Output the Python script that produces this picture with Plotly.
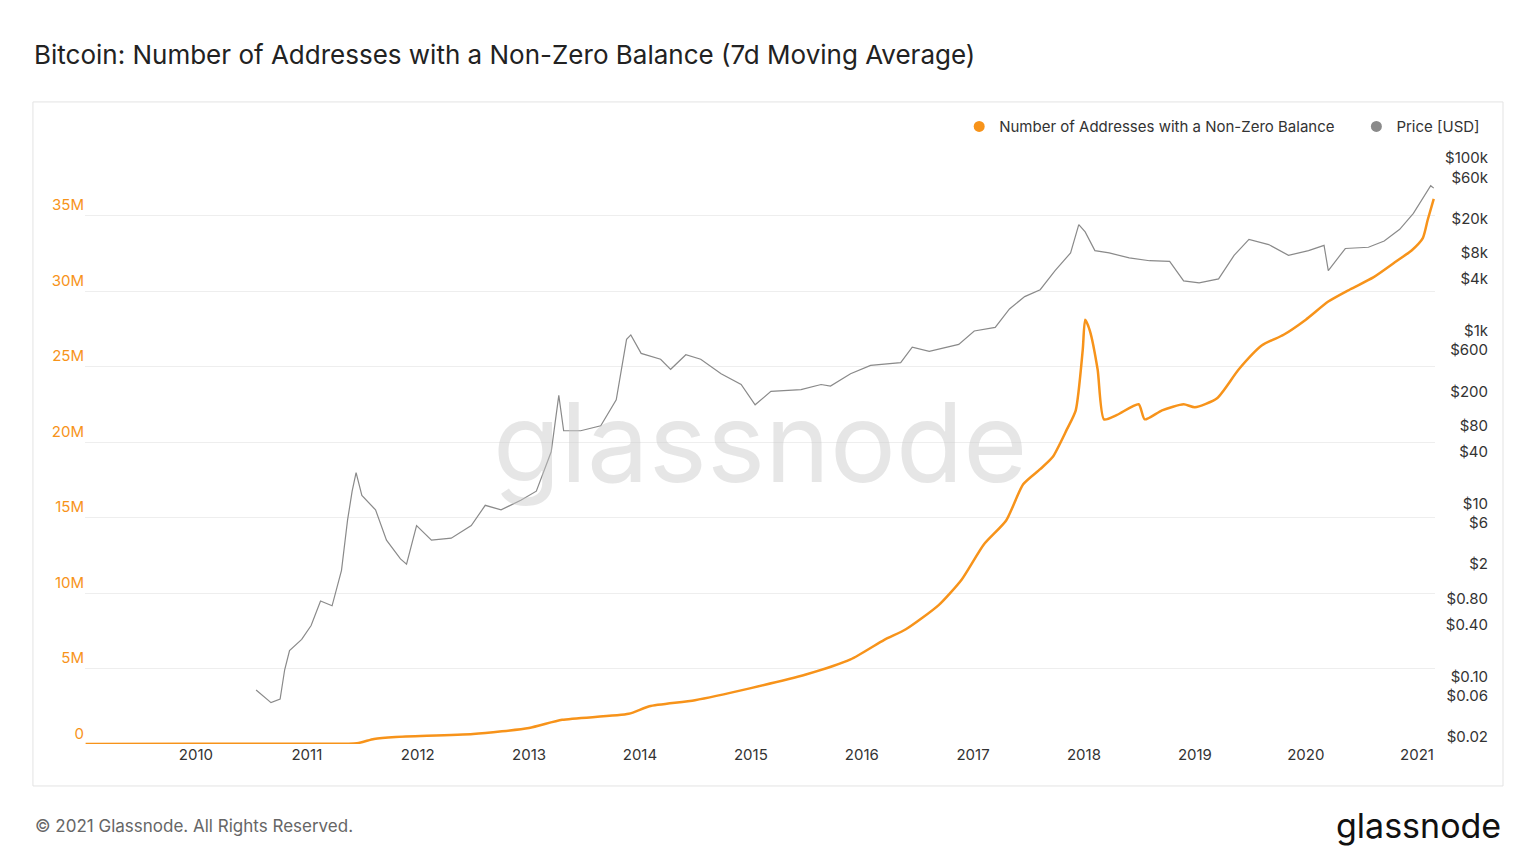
import plotly.graph_objects as go

addr_dates = ["2009-01-03","2010-01-01","2011-01-01","2011-06-15","2011-08-10","2011-10-20","2012-07-01","2013-01-01","2013-04-20","2013-11-25","2014-02-01","2014-07-01","2015-01-01","2015-07-01","2015-11-25","2016-03-15","2016-05-25","2016-09-10","2016-11-25","2017-02-05","2017-04-20","2017-06-15","2017-08-10","2017-09-20","2017-11-05","2017-12-05","2017-12-28","2018-01-05","2018-01-20","2018-02-15","2018-03-08","2018-04-20","2018-06-30","2018-07-20","2018-09-15","2018-11-25","2019-01-01","2019-03-15","2019-05-25","2019-08-10","2019-10-20","2020-01-01","2020-03-15","2020-05-25","2020-08-10","2020-10-20","2020-12-15","2021-01-20","2021-02-05","2021-02-25"]
addr_vals = [0.0,0.01,0.02,0.05,0.33,0.46,0.66,1.06,1.6,2.0,2.5,2.9,3.7,4.6,5.6,6.9,7.6,9.2,10.9,13.2,14.8,17.2,18.2,19.0,20.8,22.1,26.1,28.1,27.4,24.8,21.5,21.8,22.5,21.5,22.1,22.5,22.3,22.9,24.8,26.4,27.1,28.1,29.3,30.1,30.9,31.9,32.7,33.5,34.7,36.1]
addr_vals = [v * 1e6 for v in addr_vals]

price_dates = ["2010-07-18","2010-09-05","2010-10-05","2010-10-20","2010-11-05","2010-12-15","2011-01-15","2011-02-15","2011-03-25","2011-04-25","2011-05-15","2011-05-30","2011-06-12","2011-07-01","2011-08-15","2011-09-20","2011-11-05","2011-11-25","2011-12-28","2012-02-15","2012-04-20","2012-06-25","2012-08-10","2012-10-01","2012-12-05","2013-01-25","2013-03-15","2013-04-09","2013-04-25","2013-06-20","2013-08-25","2013-10-15","2013-11-18","2013-12-02","2014-01-05","2014-03-10","2014-04-12","2014-06-01","2014-07-20","2014-09-25","2014-11-30","2015-01-15","2015-03-08","2015-06-15","2015-08-20","2015-09-20","2015-11-25","2016-01-30","2016-05-08","2016-06-15","2016-08-10","2016-11-15","2017-01-05","2017-03-15","2017-05-01","2017-06-20","2017-08-10","2017-09-28","2017-11-18","2017-12-15","2018-01-05","2018-02-06","2018-03-25","2018-05-30","2018-08-05","2018-10-10","2018-11-25","2019-01-15","2019-03-20","2019-05-10","2019-06-28","2019-09-01","2019-11-05","2020-01-10","2020-03-01","2020-03-15","2020-05-10","2020-07-25","2020-09-15","2020-11-05","2020-12-20","2021-01-20","2021-02-15","2021-02-25"]
price_vals = [0.07,0.05,0.055,0.12,0.2,0.27,0.39,0.75,0.66,1.7,6.5,14,23,12.5,8.5,3.8,2.3,2.0,5.6,3.8,4,5.6,9.6,8.5,11,14,40,180,70,70,80,160,800,900,550,470,360,530,470,320,240,140,200,210,240,230,320,400,430,650,580,700,1000,1100,1800,2500,3000,5000,8000,17000,14000,8500,8000,7000,6500,6400,3800,3600,4000,7500,11500,10000,7500,8500,9800,5000,9000,9300,11000,15000,23000,35000,48000,45000]

left_ticks = [0, 5e6, 10e6, 15e6, 20e6, 25e6, 30e6, 35e6]
left_labels = ["0", "5M", "10M", "15M", "20M", "25M", "30M", "35M"]
right_ticks = [0.02,0.06,0.1,0.4,0.8,2,6,10,40,80,200,600,1000,4000,8000,20000,60000,100000]
right_labels = ["$0.02","$0.06","$0.10","$0.40","$0.80","$2","$6","$10","$40","$80","$200","$600","$1k","$4k","$8k","$20k","$60k","$100k"]
x_ticks = [f"{y}-01-01" for y in range(2010, 2022)]
x_labels = [str(y) for y in range(2010, 2022)]

ORANGE = "#f7931a"
GRAY = "#8a8a8a"
fig = go.Figure()
fig.add_trace(go.Scatter(x=price_dates, y=price_vals, yaxis="y2", mode="lines",
                         line=dict(color=GRAY, width=1.2), showlegend=False))
fig.add_trace(go.Scatter(x=addr_dates, y=addr_vals, mode="lines", line=dict(color=ORANGE, width=2.5, shape="spline", smoothing=0.6),
                         showlegend=False))
fig.add_trace(go.Scatter(x=[None], y=[None], mode="markers", marker=dict(color=ORANGE, size=11),
                         name="Number of Addresses with a Non-Zero Balance&nbsp;&nbsp;&nbsp;&nbsp;"))
fig.add_trace(go.Scatter(x=[None], y=[None], mode="markers", marker=dict(color=GRAY, size=11),
                         name="Price [USD]"))

fig.update_layout(
    width=1528, height=856, paper_bgcolor="white", plot_bgcolor="white",
    margin=dict(l=77, r=48, t=132, b=120, autoexpand=False),
    font=dict(family="Inter, Open Sans, sans-serif", color="#333"),
    showlegend=True,
    legend=dict(orientation="h", x=0.998, xanchor="right", y=1.022, yanchor="middle",
                font=dict(size=15, color="#333"), itemwidth=30, bgcolor="rgba(0,0,0,0)"),
    xaxis=dict(type="date", domain=[0, 0.9622], range=["2009-01-01", "2021-03-01"], tickvals=x_ticks, ticktext=x_labels,
               automargin=False, showgrid=False, showline=False, zeroline=False,
               tickfont=dict(size=15, color="#333"), ticks=""),
    yaxis=dict(range=[0, 40e6], tickvals=left_ticks, ticktext=left_labels, showgrid=True, gridcolor="#eeeeee",
               automargin=False, zeroline=False, tickfont=dict(size=15, color=ORANGE), ticklabelposition="outside top"),
    yaxis2=dict(type="log", overlaying="y", anchor="free", position=1.0, side="left", range=[-1.78, 5.21],
                tickvals=right_ticks, automargin=False, ticktext=right_labels, showgrid=False, zeroline=False,
                showline=False, ticks="", tickfont=dict(size=15, color="#333")),
    shapes=[dict(type="rect", xref="paper", yref="paper", x0=-0.0371, x1=1.0107, y0=-0.0695, y1=1.063,
                 line=dict(color="#e3e3e3", width=1), layer="below")],
    annotations=[
        dict(text="Bitcoin: Number of Addresses with a Non-Zero Balance (7d Moving Average)", xref="paper", yref="paper",
             x=-0.038, y=1.141, xanchor="left", yanchor="middle", showarrow=False, font=dict(size=26, color="#222")),
        dict(text="glassnode", xref="paper", yref="paper", x=0.481, y=0.5, xanchor="center", yanchor="middle",
             showarrow=False, font=dict(size=110, color="rgba(200,200,200,0.45)")),
        dict(text="© 2021 Glassnode. All Rights Reserved.", xref="paper", yref="paper", x=-0.0371, y=-0.135,
             xanchor="left", yanchor="middle", showarrow=False, font=dict(size=17, color="#666")),
        dict(text="glassnode", xref="paper", yref="paper", x=1.0107, y=-0.135, xanchor="right", yanchor="middle",
             showarrow=False, font=dict(size=34, color="#111")),
    ],
)
fig.write_html("out.html")
